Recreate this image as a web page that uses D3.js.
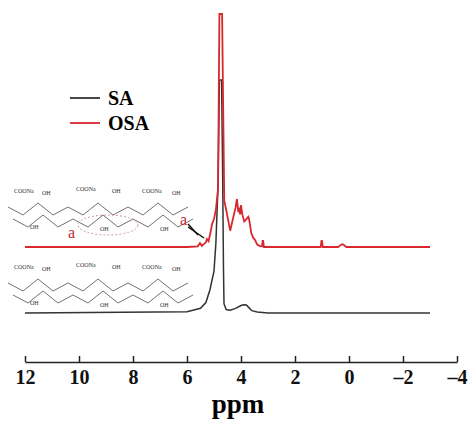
<!DOCTYPE html><html><head><meta charset="utf-8"><script src="https://cdn.jsdelivr.net/npm/d3@7"></script>
<style>body{margin:0;background:#fff}text{font-family:"Liberation Serif","Times New Roman",serif}</style></head><body><svg id="c" width="474" height="424"></svg>
<script>
const ticks=[12,10,8,6,4,2,0,-2,-4];
const osaPpm=[12,6,5.6,5.52,5.45,5.3,5.26,5.2,5.1,5.07,5.0,4.93,4.85,4.8,4.76,4.7,4.66,4.62,4.55,4.45,4.4,4.3,4.2,4.15,4.1,4.07,4.03,4.0,3.95,3.88,3.8,3.73,3.7,3.62,3.55,3.48,3.4,3.3,3.22,3.2,3.18,3.15,1.05,1.02,1.0,0.97,0.4,0.3,0.26,0.2,0.1,-3];
const osaVal=[0,0,0.3,1.7,0.5,2,3.4,2.5,8,10,12,16,25,100,100,100,60,20,16,10,7,12,17,20.6,15,16,14,18,14,11,12,13,12,6,4,3,1,0.4,0.3,2.6,2.6,0,0,2.6,2.6,0,0,0.9,1.2,0.9,0,0];
const saPpm=[12,6,5.5,5.3,5.15,5.0,4.93,4.85,4.8,4.76,4.72,4.68,4.65,4.63,4.55,4.4,4.2,4.0,3.9,3.8,3.7,3.6,3.4,3.2,3.0,-3];
const saVal=[0,0.5,2,4.5,10,18,30,55,100,100,100,60,20,4,1.5,1.2,2,3.2,3.5,3.4,2.2,1,0.4,0.2,0,0];
const series=[{name:"SA",color:"#333",ppm:saPpm,val:saVal,base:313},{name:"OSA",color:"#d9272e",ppm:osaPpm,val:osaVal,base:247}];
const svg=d3.select("#c");
const x=d3.scaleLinear().domain([12,-4]).range([25,457]);
const yAxis=362;
const g=svg.append("g").attr("transform",`translate(0,${yAxis})`).call(d3.axisBottom(x).tickValues(ticks).tickSize(-6).tickSizeOuter(0).tickFormat(d=>d<0?"\u2013"+(-d):d));
g.select(".domain").attr("stroke","#222").attr("stroke-width",1.5);
g.selectAll(".tick line").attr("stroke","#222").attr("stroke-width",1.5);
g.selectAll(".tick text").attr("y",8).attr("dy","0.71em").attr("font-size",20).attr("font-weight","bold").attr("font-family","Liberation Serif").attr("fill","#111");
svg.append("text").attr("x",238).attr("y",413).attr("text-anchor","middle").attr("font-size",27).attr("font-weight","bold").text("ppm");
series.forEach(s=>{
 const y=d3.scaleLinear().domain([0,100]).range([s.base,s.base-233]);
 const data=s.ppm.map((p,i)=>[p,s.val[i]]);
 svg.append("path").datum(data).attr("fill","none").attr("stroke",s.color).attr("stroke-width",s.name==="OSA"?1.8:1.5).attr("d",d3.line().x(d=>x(d[0])).y(d=>y(Math.min(d[1],100))));
});
series.forEach((s,i)=>{
 const yy=98+i*25;
 svg.append("line").attr("x1",70).attr("x2",100).attr("y1",yy).attr("y2",yy).attr("stroke",s.color).attr("stroke-width",1.8);
 svg.append("text").attr("x",108).attr("y",yy+7).attr("font-size",20).attr("font-weight","bold").text(s.name);
});
function chain(y0,col){
 const pts=[];for(let i=0;i<=12;i++)pts.push([8+i*15,y0+(i%2?8:-4)+(i%4==0?4:0)]);
 svg.append("path").attr("d",d3.line()(pts)).attr("fill","none").attr("stroke",col).attr("stroke-width",0.7);
 const pts2=pts.map(p=>[p[0]+5,p[1]+12]);
 svg.append("path").attr("d",d3.line()(pts2)).attr("fill","none").attr("stroke",col).attr("stroke-width",0.7);
 [["COONa",14,-14],["OH",42,-12],["COONa",76,-16],["OH",112,-14],["COONa",142,-14],["OH",172,-12],["OH",30,22],["OH",100,24],["OH",160,24]].forEach(t=>svg.append("text").attr("x",t[1]).attr("y",y0+t[2]).attr("font-size",6).attr("fill",col).text(t[0]));
}
chain(207,"#333");chain(283,"#333");
svg.append("text").attr("x",68).attr("y",238).attr("font-size",16).attr("fill","#c0272d").text("a");
svg.append("text").attr("x",180).attr("y",225).attr("font-size",16).attr("fill","#c0272d").text("a");
svg.append("ellipse").attr("cx",108).attr("cy",225).attr("rx",30).attr("ry",10).attr("fill","none").attr("stroke","#c99").attr("stroke-dasharray","2,2");
svg.append("line").attr("x1",188).attr("y1",224).attr("x2",198).attr("y2",235).attr("stroke","#111").attr("stroke-width",1.5);
svg.append("line").attr("x1",188).attr("y1",227).attr("x2",204).attr("y2",238).attr("stroke","#111").attr("stroke-width",1.5);
</script></body></html>
